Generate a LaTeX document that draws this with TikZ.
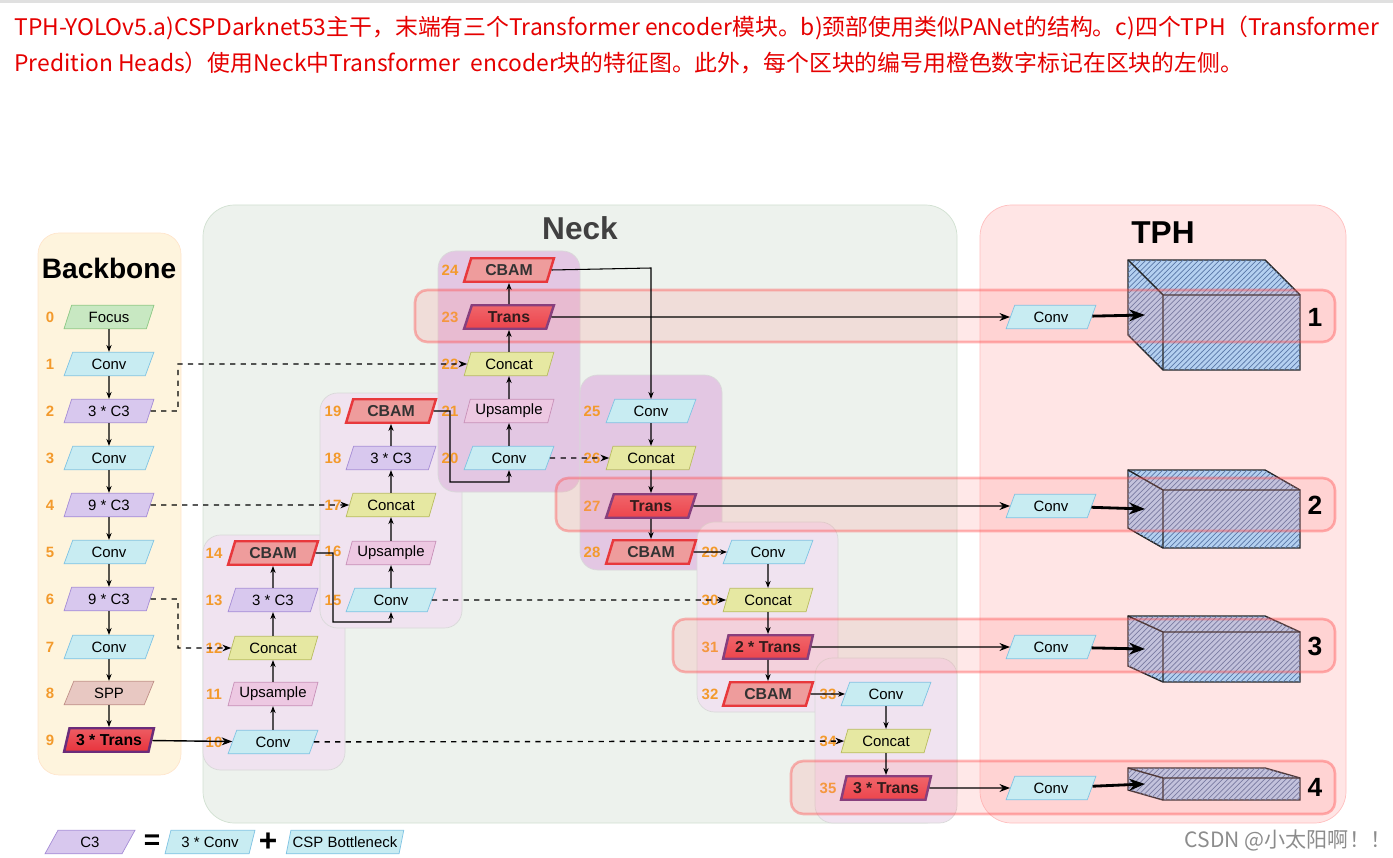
\documentclass[tikz,border=0pt]{standalone}
\usepackage{fontspec}
\setmainfont{Liberation Sans}
\newfontfamily\cjk{Noto Sans CJK SC}
\usetikzlibrary{shapes.geometric,arrows.meta,patterns}
\definecolor{convf}{HTML}{C8ECF2}\definecolor{convd}{HTML}{7FC3E3}
\definecolor{c3f}{HTML}{D8C8EE}\definecolor{c3d}{HTML}{A58CD6}
\definecolor{catf}{HTML}{E6E8A2}\definecolor{catd}{HTML}{B8BC60}
\definecolor{upf}{HTML}{EDC8E2}\definecolor{upd}{HTML}{C890B8}
\definecolor{focf}{HTML}{C8E8C2}\definecolor{focd}{HTML}{8CC884}
\definecolor{sppf}{HTML}{E8C8C2}\definecolor{sppd}{HTML}{C09088}
\definecolor{cbf}{HTML}{EE9C9C}\definecolor{cbd}{HTML}{E8383C}
\definecolor{trf}{HTML}{E8333C}\definecolor{trd}{HTML}{6A2C7A}
\definecolor{numc}{HTML}{F39A2C}
\definecolor{cubef}{HTML}{B4D0F0}
\definecolor{cubep}{HTML}{5A78A8}
\tikzset{
 blk/.style={trapezium,trapezium left angle=72,trapezium right angle=108,trapezium stretches=true,minimum width=1.8cm,minimum height=0.47cm,inner sep=1pt,font=\fontsize{8.5}{10}\selectfont},
 conv/.style={blk,fill=convf,draw=convd},
 c3/.style={blk,fill=c3f,draw=c3d},
 cat/.style={blk,fill=catf,draw=catd},
 ups/.style={blk,fill=upf,draw=upd},
 foc/.style={blk,fill=focf,draw=focd},
 spp/.style={blk,fill=sppf,draw=sppd},
 cbam/.style={blk,fill=cbf,draw=cbd,line width=1.4pt,font=\fontsize{9}{10}\selectfont\bfseries,text=black!80},
 trans/.style={blk,top color=trf!80,bottom color=trf,draw=trd,line width=1.4pt,font=\fontsize{9}{10}\selectfont\bfseries},
 num/.style={text=numc,font=\fontsize{8.5}{10}\selectfont\bfseries},
 ar/.style={-{Stealth[length=4pt]},semithick},
 da/.style={-{Stealth[length=5pt]},dashed,thick},
 ta/.style={-{Stealth[length=6pt]},thick},
 grp/.style={rounded corners=10pt,draw=black!15},
 strip/.style={rounded corners=7pt,fill=red!45,fill opacity=0.2,draw=red!70,draw opacity=0.4,line width=1.5pt},
 cube/.style={draw=black!85,thick,fill=cubef,postaction={pattern=north east lines,pattern color=cubep}},
}
\begin{document}
\begin{tikzpicture}[x=0.02cm,y=-0.02cm]
\useasboundingbox (0,0) rectangle (1393,858);
\fill[black!12] (0,0) rectangle (1393,3);
\fill[rounded corners=12pt,fill=yellow!40!orange!12,draw=orange!20] (38,233) rectangle (181,775);
\fill[rounded corners=18pt,fill=green!15!gray!12,draw=green!20!gray!30] (203,205) rectangle (957,823);
\fill[rounded corners=18pt,fill=red!10,draw=red!25] (980,205) rectangle (1346,823);
\node[font=\fontsize{16}{18}\selectfont\bfseries] at (109,268) {Backbone};
\node[font=\fontsize{18}{20}\selectfont\bfseries,text=black!75] at (580,228) {Neck};
\node[font=\fontsize{18}{20}\selectfont\bfseries] at (1163,233) {TPH};
\filldraw[grp,fill=gray!15!violet!12] (203,535) rectangle (345,770);
\filldraw[grp,fill=gray!15!violet!12] (320,393) rectangle (462,628);
\filldraw[grp,fill=violet!22] (438,251) rectangle (580,492);
\filldraw[grp,fill=violet!22] (580,375) rectangle (722,570);
\filldraw[grp,fill=gray!15!violet!12] (697,522) rectangle (838,712);
\filldraw[grp,fill=gray!15!violet!12] (815,658) rectangle (957,823);
\node[anchor=north west,align=left,text=red!90!black,font=\cjk\fontsize{13}{20}\selectfont,inner sep=0] at (14,16) {TPH-YOLOv5.a)CSPDarknet53主干，末端有三个Transformer encoder模块。b)颈部使用类似PANet的结构。c)四个TPH（Transformer\\Predition Heads）使用Neck中Transformer\ \ encoder块的特征图。此外，每个区块的编号用橙色数字标记在区块的左侧。};
\newcommand{\mycube}[4]{%
 \filldraw[cube] (1128,#1) -- (1265,#1) -- (1300,#2) -- (1300,#3) -- (1163,#3) -- (1128,#3-#2+#1) -- cycle;
 \draw[black!85,thick] (1128,#1) -- (1163,#2) -- (1300,#2) (1163,#2) -- (1163,#3);
 \coordinate (#4) at (1145,{(#1+#3)/2});}
\mycube{260}{295}{370}{k1}
\mycube{470}{490}{548}{k2}
\mycube{616}{632}{682}{k3}
\mycube{768}{778}{800}{k4}
\node[foc] (b0) at (109,317) {Focus};
\node[conv] (b1) at (109,364) {Conv};
\node[c3] (b2) at (109,411) {3 * C3};
\node[conv] (b3) at (109,458) {Conv};
\node[c3] (b4) at (109,505) {9 * C3};
\node[conv] (b5) at (109,552) {Conv};
\node[c3] (b6) at (109,599) {9 * C3};
\node[conv] (b7) at (109,647) {Conv};
\node[spp] (b8) at (109,693) {SPP};
\node[trans] (b9) at (109,740) {3 * Trans};
\foreach \i/\y in {0/317,1/364,2/411,3/458,4/505,5/552,6/599,7/647,8/693,9/740} \node[num] at (50,\y) {\i};
\foreach \a/\b in {0/1,1/2,2/3,3/4,4/5,5/6,6/7,7/8,8/9} \draw[ar] (b\a) -- (b\b);
\node[conv] (n10) at (273,742) {Conv};
\node[ups] (n11) at (273,694) {Upsample};
\node[cat] (n12) at (273,648) {Concat};
\node[c3] (n13) at (273,600) {3 * C3};
\node[cbam] (n14) at (273,553) {CBAM};
\node[conv] (n15) at (391,600) {Conv};
\node[ups] (n16) at (391,553) {Upsample};
\node[cat] (n17) at (391,505) {Concat};
\node[c3] (n18) at (391,458) {3 * C3};
\node[cbam] (n19) at (391,411) {CBAM};
\node[conv] (n20) at (509,458) {Conv};
\node[ups] (n21) at (509,411) {Upsample};
\node[cat] (n22) at (509,364) {Concat};
\node[trans] (n23) at (509,317) {Trans};
\node[cbam] (n24) at (509,270) {CBAM};
\node[conv] (n25) at (651,411) {Conv};
\node[cat] (n26) at (651,458) {Concat};
\node[trans] (n27) at (651,506) {Trans};
\node[cbam] (n28) at (651,552) {CBAM};
\node[conv] (n29) at (768,552) {Conv};
\node[cat] (n30) at (768,600) {Concat};
\node[trans] (n31) at (768,647) {2 * Trans};
\node[cbam] (n32) at (768,694) {CBAM};
\node[conv] (n33) at (886,694) {Conv};
\node[cat] (n34) at (886,741) {Concat};
\node[trans] (n35) at (886,788) {3 * Trans};
\foreach \i/\x/\y in {10/214/742,11/214/694,12/214/648,13/214/600,14/214/553,15/333/600,16/333/551,17/333/505,18/333/458,19/333/411,20/450/458,21/450/411,22/450/364,23/450/317,24/450/270,25/592/411,26/592/458,27/592/506,28/592/552,29/710/552,30/710/600,31/710/647,32/710/694,33/828/694,34/828/741,35/828/788} \node[num] at (\x,\y) {\i};
\draw[strip] (415,290) rectangle (1335,342);
\draw[strip] (556,478) rectangle (1335,531);
\draw[strip] (673,619) rectangle (1335,672);
\draw[strip] (791,761) rectangle (1335,814);
\node[font=\fontsize{15}{16}\selectfont\bfseries] at (1315,317) {1};
\node[font=\fontsize{15}{16}\selectfont\bfseries] at (1315,505) {2};
\node[font=\fontsize{15}{16}\selectfont\bfseries] at (1315,646) {3};
\node[font=\fontsize{15}{16}\selectfont\bfseries] at (1315,787) {4};
\node[conv] (h1) at (1051,317) {Conv};
\node[conv] (h2) at (1051,506) {Conv};
\node[conv] (h3) at (1051,647) {Conv};
\node[conv] (h4) at (1051,788) {Conv};
\foreach \i in {1,2,3,4} \draw[-{Stealth[length=9pt]},line width=1.6pt] (h\i) -- (k\i);
\draw[ta] (n23) -- (h1);
\draw[ta] (n27) -- (h2);
\draw[ta] (n31) -- (h3);
\draw[ta] (n35) -- (h4);
\draw[ta] (b9) -- (n10);
\foreach \a/\b in {10/11,11/12,12/13,13/14,15/16,16/17,17/18,18/19,20/21,21/22,22/23,23/24,25/26,26/27,27/28,29/30,30/31,31/32,33/34,34/35} \draw[ar] (n\a) -- (n\b);
\draw[ar] (n14.east) -- (333,553) -- (333,622) -- (391,622) -- (n15.south);
\draw[ar] (n19.east) -- (450,411) -- (450,482) -- (509,482) -- (n20.south);
\draw[ar] (n24.east) -- (651,268) -- (n25.north);
\draw[ar] (n28) -- (n29);
\draw[ar] (n32) -- (n33);
\draw[da] (b2.east) -- (178,411) -- (178,364) -- (n22.west);
\draw[da] (b4) -- (n17);
\draw[da] (b6.east) -- (178,599) -- (178,648) -- (n12.west);
\draw[da] (n20) -- (n26);
\draw[da] (n15) -- (n30);
\draw[da] (n10) -- (n34);
\node[c3] (l1) at (90,842) {C3};
\node[font=\fontsize{16}{16}\selectfont\bfseries] (eq) at (152,842) {=};
\node[conv] (l2) at (210,842) {3 * Conv};
\node[font=\fontsize{18}{16}\selectfont\bfseries] (pl) at (268,842) {+};
\node[conv,minimum width=2.3cm] (l3) at (345,842) {CSP Bottleneck};
\node[text=black!45,font=\cjk\fontsize{12}{14}\selectfont] at (1288,840) {CSDN @小太阳啊！！};
\end{tikzpicture}
\end{document}
